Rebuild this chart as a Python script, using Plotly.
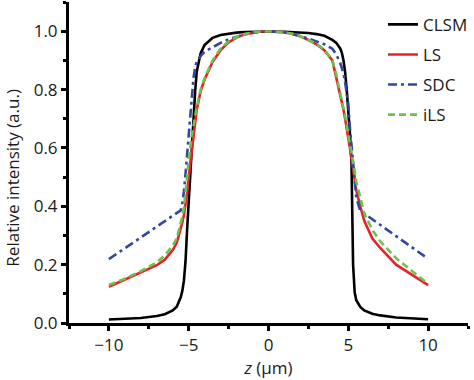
import plotly.graph_objects as go

# axial position z (µm)
z = [-10, -9, -8, -7, -6.5, -6, -5.75, -5.5, -5.4, -5.3, -5.2, -5.1, -5.0, -4.9, -4.8,
     -4.7, -4.6, -4.5, -4.25, -4, -3.5, -3, -2.5, -2, -1.5, -1, -0.5, 0,
     0.5, 1, 1.5, 2, 2.5, 3, 3.5, 4, 4.25, 4.5, 4.6, 4.7, 4.8, 4.9, 5.0, 5.1, 5.2,
     5.3, 5.4, 5.5, 5.75, 6, 6.5, 7, 8, 9, 10]

clsm = [0.012, 0.014, 0.017, 0.024, 0.030, 0.043, 0.056, 0.088, 0.110, 0.145, 0.210, 0.320, 0.420, 0.520, 0.610,
        0.700, 0.790, 0.860, 0.925, 0.953, 0.977, 0.987, 0.992, 0.995, 0.997, 0.998, 0.999, 1.000,
        0.999, 0.998, 0.997, 0.996, 0.994, 0.990, 0.984, 0.970, 0.960, 0.940, 0.925, 0.900, 0.860, 0.800, 0.730, 0.650, 0.550,
        0.200, 0.105, 0.078, 0.055, 0.043, 0.032, 0.026, 0.019, 0.015, 0.013]

ls = [0.124, 0.148, 0.172, 0.198, 0.217, 0.250, 0.275, 0.320, 0.345, 0.370, 0.405, 0.445, 0.500, 0.550, 0.600,
      0.650, 0.690, 0.730, 0.795, 0.835, 0.895, 0.935, 0.962, 0.978, 0.989, 0.995, 0.999, 1.000,
      0.999, 0.996, 0.991, 0.982, 0.970, 0.955, 0.935, 0.900, 0.840, 0.780, 0.760, 0.730, 0.700, 0.670, 0.640, 0.600, 0.565,
      0.530, 0.495, 0.455, 0.400, 0.350, 0.290, 0.257, 0.200, 0.165, 0.130]

sdc = [0.219, 0.256, 0.293, 0.330, 0.349, 0.367, 0.376, 0.386, 0.410, 0.450, 0.510, 0.580, 0.650, 0.720, 0.790,
       0.840, 0.875, 0.895, 0.915, 0.930, 0.945, 0.960, 0.972, 0.982, 0.990, 0.995, 0.999, 1.000,
       0.999, 0.996, 0.990, 0.983, 0.975, 0.965, 0.955, 0.940, 0.920, 0.890, 0.875, 0.855, 0.825, 0.790, 0.750, 0.670, 0.600,
       0.545, 0.490, 0.430, 0.385, 0.375, 0.356, 0.336, 0.297, 0.258, 0.220]

ils = [0.130, 0.152, 0.178, 0.208, 0.232, 0.265, 0.290, 0.340, 0.365, 0.395, 0.440, 0.500, 0.560, 0.610, 0.645,
       0.675, 0.705, 0.740, 0.800, 0.840, 0.900, 0.940, 0.965, 0.980, 0.990, 0.996, 0.999, 1.000,
       0.999, 0.996, 0.991, 0.983, 0.971, 0.957, 0.937, 0.900, 0.850, 0.780, 0.760, 0.735, 0.710, 0.680, 0.650, 0.615, 0.585,
       0.555, 0.520, 0.485, 0.430, 0.375, 0.320, 0.280, 0.222, 0.178, 0.134]

names = ["CLSM", "LS", "SDC", "iLS"]
colors = ["#000000", "#e8202a", "#3446a0", "#6cc24a"]
dashes = ["solid", "solid", "9px,4px,3px,4px", "7px,4px"]
series = [clsm, ls, sdc, ils]

FONT = "Open Sans"
TXT = "#1a1a1a"

fig = go.Figure()
for name, vals, col, dsh in zip(names, series, colors, dashes):
    fig.add_trace(go.Scatter(x=z, y=vals, mode="lines", name=name, legendgroup=name,
                             line=dict(color=col, width=2.6, dash=dsh)))

fig.update_layout(
    width=474, height=380,
    margin=dict(l=69, r=5, t=2, b=57),
    paper_bgcolor="white", plot_bgcolor="white",
    font=dict(family=FONT, size=17, color=TXT),
    showlegend=True,
    legend=dict(x=0.785, y=0.985, xanchor="left", yanchor="top",
                font=dict(family=FONT, size=17, color=TXT),
                bgcolor="rgba(0,0,0,0)", tracegroupgap=5, itemwidth=30,
                borderwidth=0),
    xaxis=dict(range=[-12.5, 12.5], tickvals=[-10, -5, 0, 5, 10],
               showline=True, linecolor="black", linewidth=3, showgrid=False, zeroline=False,
               ticks="outside", ticklen=5, tickwidth=2.5, tickcolor="black",
               tickfont=dict(family=FONT, size=17, color=TXT),
               minor=dict(dtick=2.5, tick0=0, ticks="outside", ticklen=3, tickwidth=2.5, tickcolor="black", showgrid=False),
               title=dict(text="<i>z</i> (µm)", standoff=6, font=dict(family=FONT, size=17, color=TXT)),
               automargin=False),
    yaxis=dict(range=[0, 1.1], tickvals=[0, 0.2, 0.4, 0.6, 0.8, 1.0], tickformat=".1f",
               showline=True, linecolor="black", linewidth=3, showgrid=False, zeroline=False,
               ticks="outside", ticklen=5, tickwidth=2.5, tickcolor="black",
               tickfont=dict(family=FONT, size=17, color=TXT),
               minor=dict(dtick=0.1, tick0=0, ticks="outside", ticklen=3, tickwidth=2.5, tickcolor="black", showgrid=False),
               automargin=False),
    annotations=[dict(text="Relative intensity (a.u.)", textangle=-90, showarrow=False,
                      xref="paper", yref="paper", x=-0.141, y=0.452,
                      xanchor="center", yanchor="middle",
                      font=dict(family=FONT, size=17, color=TXT))],
)

fig.write_html("out.html", config={"displayModeBar": False},
               post_script="document.body.style.margin='0';document.body.style.overflow='hidden';")
